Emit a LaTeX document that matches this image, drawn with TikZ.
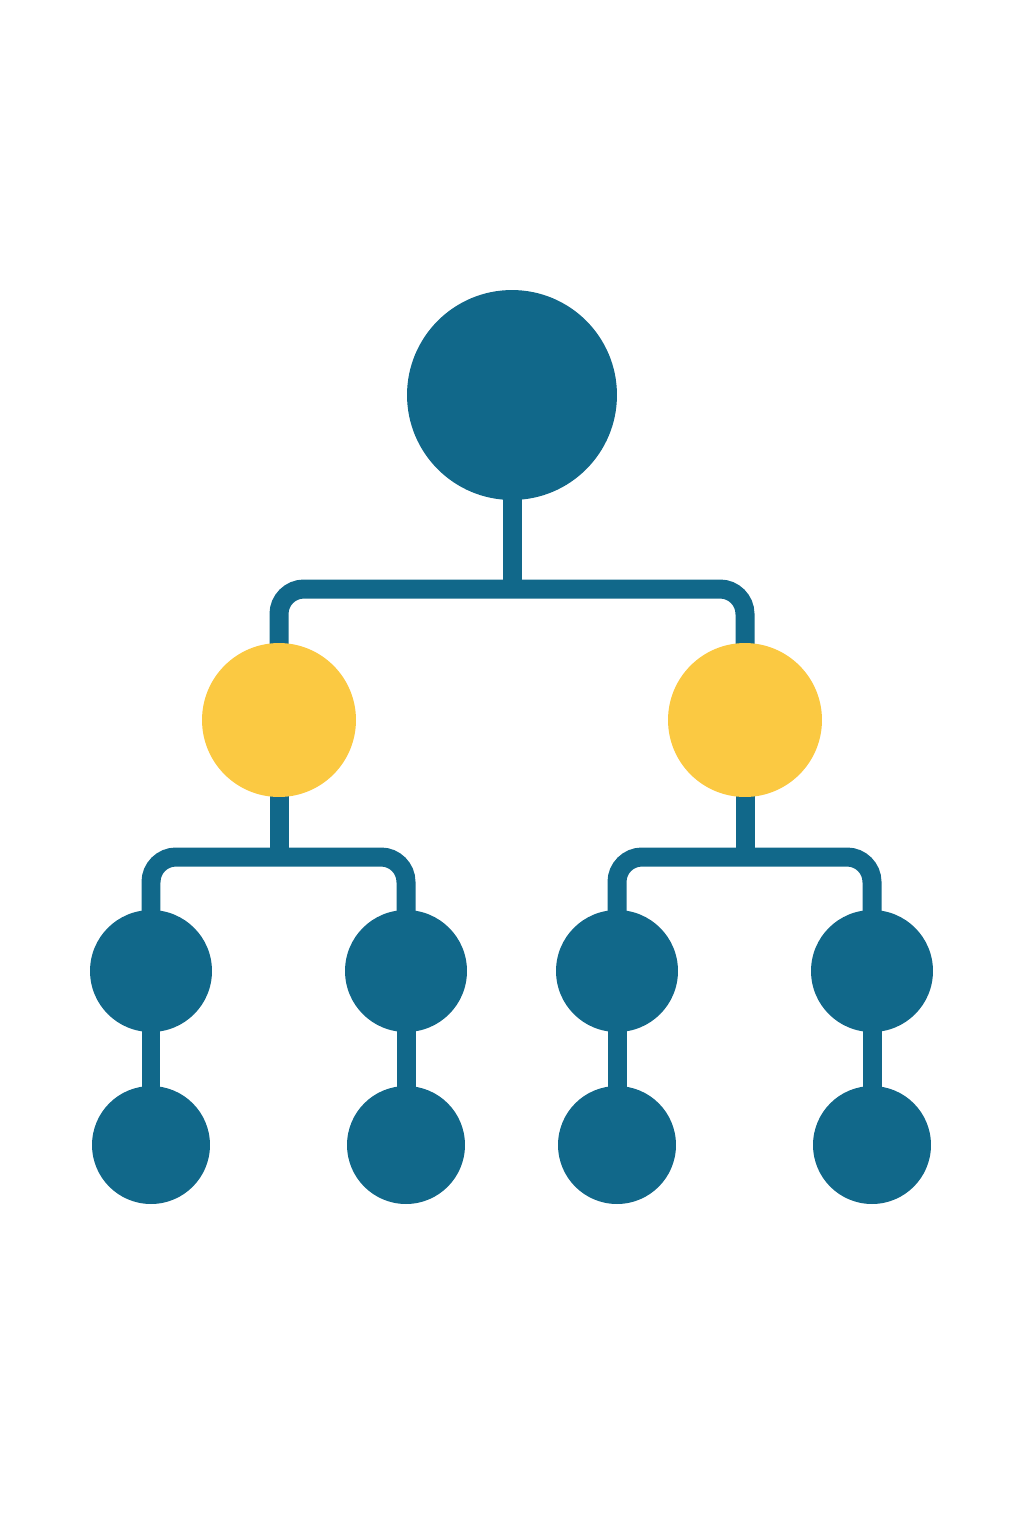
\documentclass[tikz,border=0pt]{standalone}
\usepackage{tikz}
\usetikzlibrary{positioning}
\pgfdeclarelayer{background}
\pgfdeclarelayer{foreground}
\pgfsetlayers{background,main,foreground}
\definecolor{treeblue}{RGB}{17,104,138}
\definecolor{treeyellow}{RGB}{251,201,66}

\begin{document}
\begin{tikzpicture}[x=0.02cm, y=-0.02cm,
			bignode/.style={circle, fill=treeblue, inner sep=0pt, minimum size=4.2cm},
			midnode/.style={circle, fill=treeyellow, inner sep=0pt, minimum size=3.08cm},
			leafnode/.style={circle, fill=treeblue, inner sep=0pt, minimum size=2.44cm},
			lownode/.style={circle, fill=treeblue, inner sep=0pt, minimum size=2.36cm},
			link/.style={draw=treeblue, line width=0.38cm, rounded corners=0.5cm},
			]
			\useasboundingbox (0,0) rectangle (1024,1536);
			%Nodes
			\node[bignode]      (root)    at 	(512,395)     {};
			\node[midnode]      (m1)      at 	(279,720)     {};
			\node[midnode]      (m2)      at 	(745,720)     {};
			\node[leafnode]     (a1)      at 	(151,971)     {};
			\node[leafnode]     (a2)      at 	(406,971)     {};
			\node[leafnode]     (a3)      at 	(617,971)     {};
			\node[leafnode]     (a4)      at 	(872,971)     {};
			\node[lownode]      (b1)      at 	(151,1145)    {};
			\node[lownode]      (b2)      at 	(406,1145)    {};
			\node[lownode]      (b3)      at 	(617,1145)    {};
			\node[lownode]      (b4)      at 	(872,1145)    {};
			%Junctions
			\coordinate (h0) at (512,589);
			\coordinate (h1) at (279,857);
			\coordinate (h2) at (745,857);
			
			\begin{pgfonlayer}{background}
			%Lines
			\draw[link] (root.center) -- (h0);
			\draw[link] (m1.center) |- (h0) -| (m2.center);
			\draw[link] (m1.center) -- (h1);
			\draw[link] (a1.center) |- (h1) -| (a2.center);
			\draw[link] (m2.center) -- (h2);
			\draw[link] (a3.center) |- (h2) -| (a4.center);
			\draw[link] (a1.center) -- (b1.center);
			\draw[link] (a2.center) -- (b2.center);
			\draw[link] (a3.center) -- (b3.center);
			\draw[link] (a4.center) -- (b4.center);
			\end{pgfonlayer}
		\end{tikzpicture}
\end{document}
